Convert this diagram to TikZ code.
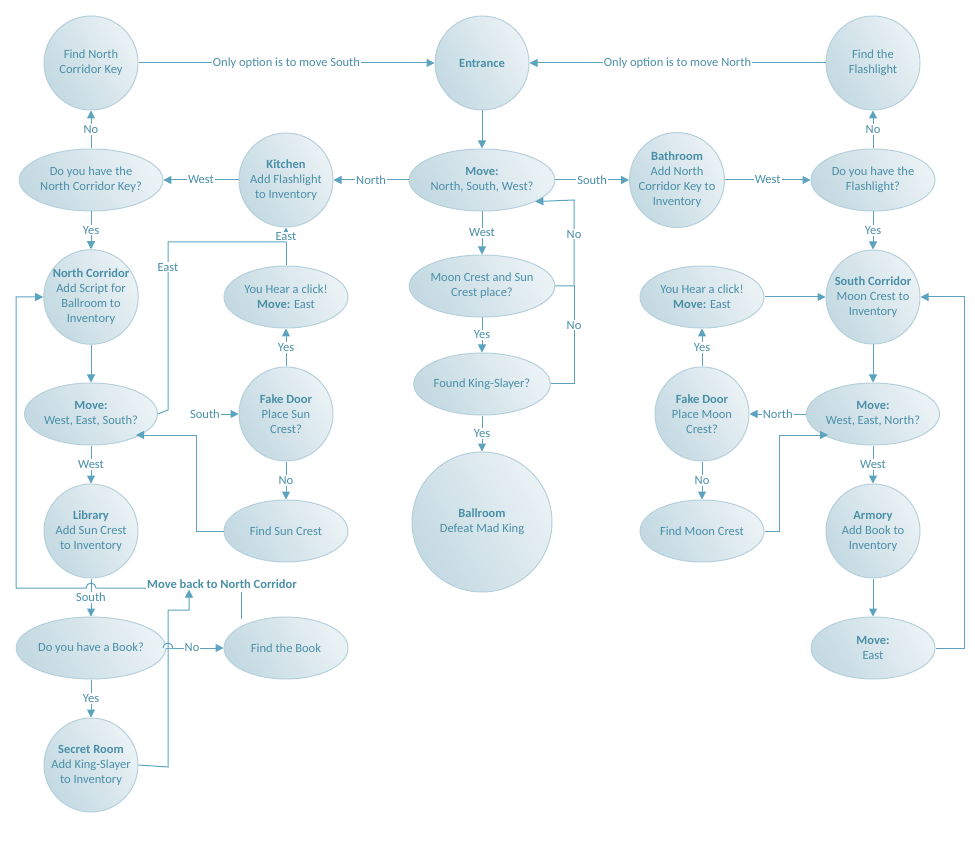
\documentclass[tikz,border=0pt]{standalone}
\usepackage{fontspec}
\setmainfont{Carlito}
\usetikzlibrary{arrows.meta,shapes.geometric}
\definecolor{tx}{HTML}{4A8FA8}
\definecolor{ln}{HTML}{5BA3BF}
\definecolor{bd}{HTML}{B5D0DB}
\tikzset{
 base/.style={draw=bd,line width=1pt,left color=white!60!bd!70,right color=bd!80,shading angle=-60,text=tx,align=center,font=\fontsize{12.5}{15}\selectfont,inner sep=0pt},
 circ/.style={base,circle,minimum size=94pt},
 ell/.style={base,ellipse,minimum width=124pt,minimum height=62pt},
 con/.style={draw=ln,line width=1pt,-{Triangle[length=8pt,width=8pt]}},
 lnk/.style={draw=ln,line width=1pt},
 lab/.style={fill=white,text=tx,font=\fontsize{12.5}{15}\selectfont,inner sep=1pt},
}
\begin{document}
\begin{tikzpicture}[x=1pt,y=-1pt]
\useasboundingbox (0,0) rectangle (975,842);
\node[circ] (fnck) at (91,63) {Find North\\Corridor Key};
\node[circ] (ent) at (482,63) {\textbf{Entrance}};
\node[circ] (ffl) at (873,63) {Find the\\Flashlight};
\node[ell] (dnck) at (91,180) {Do you have the\\North Corridor Key?};
\node[circ] (kit) at (286,180) {\textbf{Kitchen}\\Add Flashlight\\to Inventory};
\node[ell] (m1) at (482,180) {\textbf{Move:}\\North, South, West?};
\node[circ] (bath) at (677,180) {\textbf{Bathroom}\\Add North\\Corridor Key to\\Inventory};
\node[ell] (dfl) at (873,180) {Do you have the\\Flashlight?};
\node[circ] (nc) at (91,297) {\textbf{North Corridor}\\Add Script for\\Ballroom to\\Inventory};
\node[ell] (ck1) at (286,297) {You Hear a click!\\\textbf{Move:} East};
\node[ell] (mc) at (482,286) {Moon Crest and Sun\\Crest place?};
\node[ell] (ck2) at (702,297) {You Hear a click!\\\textbf{Move:} East};
\node[circ] (sc) at (873,297) {\textbf{South Corridor}\\Moon Crest to\\Inventory};
\node[ell] (m2) at (91,414) {\textbf{Move:}\\West, East, South?};
\node[circ] (fd1) at (286,414) {\textbf{Fake Door}\\Place Sun\\Crest?};
\node[ell] (ks) at (482,384) {Found King-Slayer?};
\node[circ] (fd2) at (702,414) {\textbf{Fake Door}\\Place Moon\\Crest?};
\node[ell] (m3) at (873,414) {\textbf{Move:}\\West, East, North?};
\node[circ] (lib) at (91,531) {\textbf{Library}\\Add Sun Crest\\to Inventory};
\node[ell] (fsun) at (286,531) {Find Sun Crest};
\node[circ,minimum size=140pt] (ball) at (482,522) {\textbf{Ballroom}\\Defeat Mad King};
\node[ell] (fmoon) at (702,531) {Find Moon Crest};
\node[circ] (arm) at (873,531) {\textbf{Armory}\\Add Book to\\Inventory};
\node[ell] (book) at (91,648) {Do you have a Book?};
\node[ell] (fbook) at (286,648) {Find the Book};
\node[ell] (m4) at (873,648) {\textbf{Move:}\\East};
\node[circ] (sec) at (91,765) {\textbf{Secret Room}\\Add King-Slayer\\to Inventory};
% top row
\draw[con] (fnck) -- node[lab]{Only option is to move South} (ent);
\draw[con] (ffl) -- node[lab]{Only option is to move North} (ent);
\draw[con] (ent) -- (m1);
\draw[con] (m1) -- node[lab]{North} (kit);
\draw[con] (m1) -- node[lab]{South} (bath);
\draw[con] (m1) -- node[lab]{West} (mc);
\draw[con] (kit) -- node[lab]{West} (dnck);
\draw[con] (dnck) -- node[lab]{No} (fnck);
\draw[con] (dnck) -- node[lab]{Yes} (nc);
\draw[con] (bath) -- node[lab]{West} (dfl);
\draw[con] (dfl) -- node[lab]{No} (ffl);
\draw[con] (dfl) -- node[lab]{Yes} (sc);
% center
\coordinate (mcr) at (574,286);
\draw[con] (mc.east) -- (mcr) -- node[lab,pos=0.6]{No} (574,200) -- (m1.-22);
\draw[lnk] (ks.east) -- (574,384) -- node[lab,pos=0.6]{No} (mcr);
\draw[con] (mc) -- node[lab]{Yes} (ks);
\draw[con] (ks) -- node[lab]{Yes} (ball);
% left
\coordinate (kj) at (286,242);
\draw[con] (ck1) -- node[lab,pos=0.75]{East} (kit);
\draw[lnk] (m2.east) -- (168,410) -- node[lab,pos=0.85]{East} (168,242) -- (kj);
\draw[con] (nc) -- (m2);
\draw[con] (fd1) -- node[lab]{Yes} (ck1);
\draw[con] (fd1) -- node[lab]{No} (fsun);
\node[lab] (south1) at (205,414) {South};
\draw[con] (south1) -- (fd1);
\draw[con] (fsun.west) -- (196,531) -- (196,435) -- (136,435);
\draw[con] (m2) -- node[lab]{West} (lib);
\draw[con] (lib) -- node[lab]{South} (book);
\node[text=tx,font=\bfseries\fontsize{12.5}{15}\selectfont,inner sep=1pt] (mb) at (222,584) {Move back to North Corridor};
\draw[lnk] (fbook.north -| 241,0) ++(0,0) (241,619) -- (241,592);
\draw[con] (mb.west |- 0,588) -- (96,588) arc[start angle=0,end angle=-180,radius=5] -- (16,588) -- (16,297) -- (nc.west);
\draw[con] (book) -- node[lab,pos=0.45]{No} (fbook);
\draw[con] (book) -- node[lab]{Yes} (sec);
\draw[lnk,fill=white] (163,648) arc[start angle=180,end angle=360,radius=5];
\draw[con] (sec.east) -- (168,767) -- (168,610) -- (189,610) -- (mb.south -| 189,0);
% right
\draw[con] (sc) -- (m3);
\draw[con] (m3) -- node[lab]{North} (fd2);
\draw[con] (fd2) -- node[lab]{Yes} (ck2);
\draw[con] (ck2) -- (sc);
\draw[con] (fd2) -- node[lab]{No} (fmoon);
\draw[con] (fmoon.east) -- (779,531) -- (779,435) -- (828,435);
\draw[con] (m3) -- node[lab]{West} (arm);
\draw[con] (arm) -- (m4);
\draw[con] (m4.east) -- (964,648) -- (964,297) -- (sc.east);
\end{tikzpicture}
\end{document}
